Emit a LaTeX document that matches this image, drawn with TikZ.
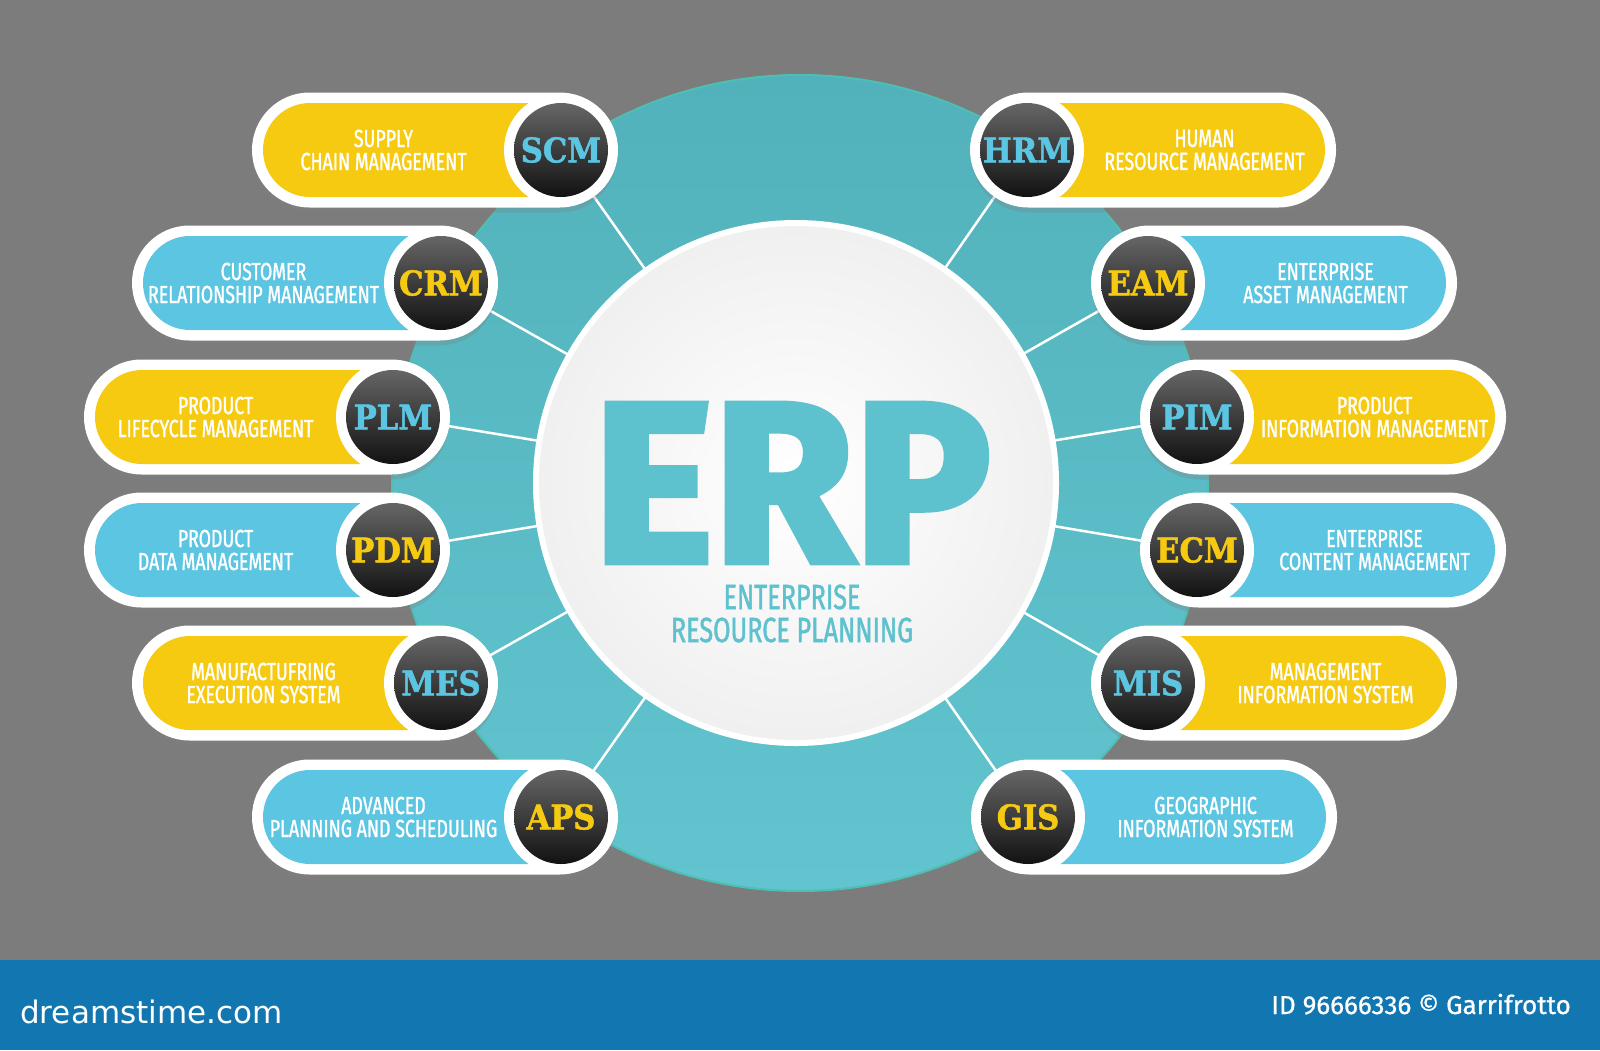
\documentclass[tikz,border=0pt]{standalone}
\usepackage{fontspec}
\setmainfont{Fira Sans}
\newfontfamily\condfont[FakeStretch=0.72,FakeBold=1.3]{Fira Sans}
\newfontfamily\slabfont[FakeStretch=0.9,FakeBold=1.5]{DejaVu Serif}
\newfontfamily\erpfont{Fira Sans}[BoldFeatures={FakeBold=3}]
\newfontfamily\idfont[FakeBold=0.8]{Fira Sans}
\newfontfamily\logofont{DejaVu Sans}
\usepackage{tikz}
\usetikzlibrary{shapes,shadows,calc,positioning}

\definecolor{bggray}{HTML}{7C7C7C}
\definecolor{ringteal}{HTML}{61C4CE}
\definecolor{ringtop}{HTML}{52B2BC}
\definecolor{ringedge}{HTML}{4DBFB3}
\definecolor{bandyellow}{HTML}{F7CA12}
\definecolor{bandblue}{HTML}{5BC5E2}
\definecolor{erpteal}{HTML}{5DC2CE}
\definecolor{barblue}{HTML}{1277B0}

\begin{document}
\begin{tikzpicture}[x=1pt,y=-1pt]
\tikzset{pill/.style={rounded rectangle,fill=white,minimum width=365pt,minimum height=115pt,inner sep=0pt,drop shadow={shadow xshift=0pt,shadow yshift=-5pt,opacity=0.3}}}
\tikzset{bandL/.style={rounded rectangle,rounded rectangle right arc=none,minimum width=298pt,minimum height=94pt,inner sep=0pt}}
\tikzset{bandR/.style={rounded rectangle,rounded rectangle left arc=none,minimum width=298pt,minimum height=94pt,inner sep=0pt}}
\tikzset{ring/.style={circle,fill=white,minimum size=114pt,inner sep=0pt}}
\tikzset{ball/.style={circle,top color=black!60,bottom color=black!93,minimum size=94pt,inner sep=0pt}}
\tikzset{abbr/.style={inner sep=0pt,font=\slabfont\bfseries\fontsize{34}{34}\selectfont}}
\tikzset{caption/.style={align=center,text=white,inner sep=0pt,font=\condfont\fontsize{24.7}{23}\selectfont}}
\tikzset{spoke/.style={white,line width=2.5pt}}

\useasboundingbox (0,0) rectangle (1600,1050);
\fill[bggray] (0,0) rectangle (1600,1050);
\fill[barblue] (0,960) rectangle (1600,1050);

\node [circle,minimum size=816pt,inner sep=0pt,top color=ringtop,middle color=ringteal,bottom color=ringteal,draw=ringedge,line width=2pt] (disc) at (800,483) {};
\coordinate (core) at (796,483);

\foreach \n/\bx/\by in {scm/561/150,crm/441/283,plm/393/417,pdm/393/550,mes/441/683,aps/561/817,
  hrm/1027/150,eam/1148/283,pim/1197/417,ecm/1197/550,mis/1148/683,gis/1028/817}{%
\coordinate (b-\n) at (\bx,\by);
\draw[spoke] (core) -- (b-\n);}

\node [circle,minimum size=520pt,inner sep=0pt,draw=white,line width=6pt,inner color=white,outer color=black!6] (hub) at (core) {};
\node [anchor=base,inner sep=0pt,text=erpteal,font=\erpfont\bfseries\fontsize{228}{228}\selectfont] (erp) at ([xshift=-4pt,yshift=-79pt]core) {ERP};
\node [align=center,inner sep=0pt,text=erpteal,font=\condfont\fontsize{35}{33}\selectfont] (sub) at ([yshift=-51.5pt]erp.base) {ENTERPRISE\\RESOURCE PLANNING};

\foreach \n/\ab/\col/\lcol/\txt in {scm/SCM/bandyellow/bandblue/{SUPPLY\\CHAIN MANAGEMENT},
  crm/CRM/bandblue/bandyellow/{CUSTOMER\\RELATIONSHIP MANAGEMENT},
  plm/PLM/bandyellow/bandblue/{PRODUCT\\LIFECYCLE MANAGEMENT},
  pdm/PDM/bandblue/bandyellow/{PRODUCT\\DATA MANAGEMENT},
  mes/MES/bandyellow/bandblue/{MANUFACTUFRING\\EXECUTION SYSTEM},
  aps/APS/bandblue/bandyellow/{ADVANCED\\PLANNING AND SCHEDULING}}{%
\node [pill] (pill-\n) at ([xshift=-126.5pt]b-\n) {};
\node [bandL,fill=\col] (band-\n) at ([xshift=-149pt]b-\n) {};
\node [ring] (ring-\n) at (b-\n) {};
\node [ball] (ball-\n) at (b-\n) {};
\node [abbr,text=\lcol] (abbr-\n) at (ball-\n) {\ab};
\node [caption] (cap-\n) at ([xshift=-177.5pt]b-\n) {\txt};}

\foreach \n/\ab/\col/\lcol/\txt in {hrm/HRM/bandyellow/bandblue/{HUMAN\\RESOURCE MANAGEMENT},
  eam/EAM/bandblue/bandyellow/{ENTERPRISE\\ASSET MANAGEMENT},
  pim/PIM/bandyellow/bandblue/{PRODUCT\\INFORMATION MANAGEMENT},
  ecm/ECM/bandblue/bandyellow/{ENTERPRISE\\CONTENT MANAGEMENT},
  mis/MIS/bandyellow/bandblue/{MANAGEMENT\\INFORMATION SYSTEM},
  gis/GIS/bandblue/bandyellow/{GEOGRAPHIC\\INFORMATION SYSTEM}}{%
\node [pill] (pill-\n) at ([xshift=126.5pt]b-\n) {};
\node [bandR,fill=\col] (band-\n) at ([xshift=149pt]b-\n) {};
\node [ring] (ring-\n) at (b-\n) {};
\node [ball] (ball-\n) at (b-\n) {};
\node [abbr,text=\lcol] (abbr-\n) at (ball-\n) {\ab};
\node [caption] (cap-\n) at ([xshift=177.5pt]b-\n) {\txt};}

\node [anchor=base west,inner sep=0pt,text=white,font=\logofont\fontsize{31}{31}\selectfont] (logo) at (20,1023) {dreamstime.com};
\node [anchor=base east,inner sep=0pt,text=white,font=\idfont\fontsize{26}{26}\selectfont] (id) at (1571,1014) {ID 96666336 © Garrifrotto};
\end{tikzpicture}
\end{document}
